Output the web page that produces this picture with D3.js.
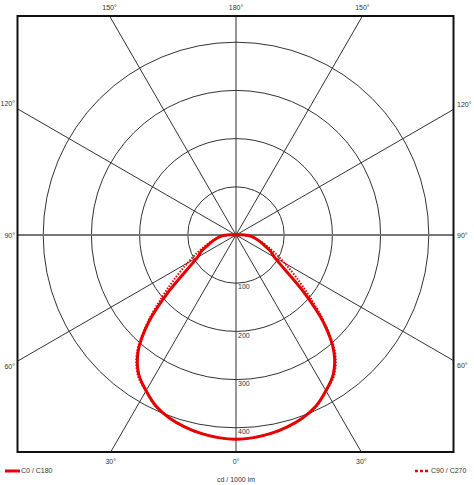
<!DOCTYPE html>
<html>
<head>
<meta charset="utf-8">
<script src="https://cdn.jsdelivr.net/npm/d3@7"></script>
<style>
  body { margin: 0; background: #fff; }
  svg text { font-family: "Liberation Sans", Arial, sans-serif; font-size: 7px; fill: #333; }
</style>
</head>
<body>
<script>
// gamma angles (deg from nadir), intensity in cd / 1000 lm
const angles  = [0, 5, 10, 15, 20, 25, 30, 35, 40, 45, 50, 55, 60, 65, 70, 75, 80, 85, 90, 95];
const c0c180  = [424, 422, 418, 412, 404, 392, 373, 352, 316, 257, 182, 122, 92, 79, 62, 51, 41, 32, 18, 0];
const c90c270 = [424, 422, 418, 412, 404, 393, 374, 355, 320, 262, 200, 152, 116, 90, 70, 54, 42, 32, 18, 0];

const rings = [100, 200, 300, 400];
const spokes = [0, 30, 60, 90, 120, 150, 180];

const width = 474;
const height = 485;
const cx = 236, cy = 235;
const frame = {left: 17.5, right: 453.5, top: 16, bottom: 452};

const r = d3.scaleLinear().domain([0, 400]).range([0, 192.8]);

const svg = d3.select("body").append("svg")
    .attr("width", width)
    .attr("height", height);

svg.append("clipPath").attr("id", "frame-clip")
  .append("rect")
    .attr("x", frame.left).attr("y", frame.top)
    .attr("width", frame.right - frame.left)
    .attr("height", frame.bottom - frame.top);

const g = svg.append("g")
    .attr("transform", `translate(${[cx, cy]})`);

const grid = g.append("g").attr("clip-path", "url(#frame-clip)")
    .attr("transform", `translate(${[-cx, -cy]})`)
  .append("g")
    .attr("transform", `translate(${[cx, cy]})`);

// rings
grid.selectAll(".ring")
  .data(rings)
  .join("circle")
    .attr("class", "ring")
    .attr("r", d => r(d))
    .attr("fill", "none")
    .attr("stroke", "#333")
    .attr("stroke-width", 1);

// spokes, both sides
const dir = (gam, side) => [side * Math.sin(gam * Math.PI / 180), Math.cos(gam * Math.PI / 180)];
const spokeDirs = [];
spokes.forEach(s => {
    spokeDirs.push({gam: s, d: dir(s, -1)});
    if (s !== 0 && s !== 180) spokeDirs.push({gam: s, d: dir(s, 1)});
});

grid.selectAll(".spoke")
  .data(spokeDirs.filter(s => s.gam !== 90))
  .join("line")
    .attr("class", "spoke")
    .attr("x1", 0).attr("y1", 0)
    .attr("x2", d => d.d[0] * 400)
    .attr("y2", d => d.d[1] * 400)
    .attr("stroke", "#333")
    .attr("stroke-width", 1);

grid.append("line")
    .attr("x1", frame.left - cx).attr("x2", frame.right - cx)
    .attr("y1", 0).attr("y2", 0)
    .attr("stroke", "#777")
    .attr("stroke-width", 2);

// radial labels
g.selectAll(".r-label")
  .data(rings)
  .join("text")
    .attr("class", "r-label")
    .attr("x", 2)
    .attr("y", d => r(d) + 1.5)
    .attr("dominant-baseline", "hanging")
    .text(d => d);

// curves
const radial = d3.lineRadial().curve(d3.curveCatmullRom);
const toPts = vals => {
    const left = angles.map((a, i) => [Math.PI + a * Math.PI / 180, r(vals[i])]).reverse();
    const right = angles.map((a, i) => [Math.PI - a * Math.PI / 180, r(vals[i])]);
    return left.concat(right.slice(1));
};

g.append("path")
    .attr("d", radial(toPts(c90c270)))
    .attr("fill", "none")
    .attr("stroke", "#e60000")
    .attr("stroke-width", 2)
    .attr("stroke-dasharray", "1.5 1.5");

g.append("path")
    .attr("d", radial(toPts(c0c180)))
    .attr("fill", "none")
    .attr("stroke", "#e60000")
    .attr("stroke-width", 3);

// frame
svg.append("rect")
    .attr("x", frame.left).attr("y", frame.top)
    .attr("width", frame.right - frame.left)
    .attr("height", frame.bottom - frame.top)
    .attr("fill", "none")
    .attr("stroke", "#111")
    .attr("stroke-width", 2);

// angle labels where spokes meet the frame
spokeDirs.forEach(s => {
    const [dx, dy] = s.d;
    const tx = dx === 0 ? Infinity : (dx > 0 ? frame.right - cx : cx - frame.left) / Math.abs(dx);
    const ty = Math.abs(dy) < 1e-9 ? Infinity : (dy > 0 ? frame.bottom - cy : cy - frame.top) / Math.abs(dy);
    const t = Math.min(tx, ty);
    let x = cx + dx * t, y = cy + dy * t;
    let anchor = "middle";
    if (tx < ty) {
        anchor = dx > 0 ? "start" : "end";
        x += dx > 0 ? 3.5 : -2.5;
        y += dy * 10;
    } else {
        y += dy > 0 ? 9 : -9;
    }
    svg.append("text")
        .attr("x", x)
        .attr("y", y)
        .attr("text-anchor", anchor)
        .attr("dominant-baseline", "central")
        .text(`${s.gam}°`);
});

// legend
svg.append("line")
    .attr("x1", 5).attr("x2", 20).attr("y1", 471).attr("y2", 471)
    .attr("stroke", "#e60000").attr("stroke-width", 3);
svg.append("text")
    .attr("x", 21).attr("y", 470.5)
    .attr("dominant-baseline", "central")
    .text("C0 / C180");

svg.append("line")
    .attr("x1", 415).attr("x2", 430).attr("y1", 471).attr("y2", 471)
    .attr("stroke", "#e60000").attr("stroke-width", 2.5)
    .attr("stroke-dasharray", "3 2");
svg.append("text")
    .attr("x", 431).attr("y", 470.5)
    .attr("dominant-baseline", "central")
    .text("C90 / C270");

svg.append("text")
    .attr("x", cx).attr("y", 479)
    .attr("text-anchor", "middle")
    .attr("dominant-baseline", "central")
    .text("cd / 1000 lm");
</script>
</body>
</html>
